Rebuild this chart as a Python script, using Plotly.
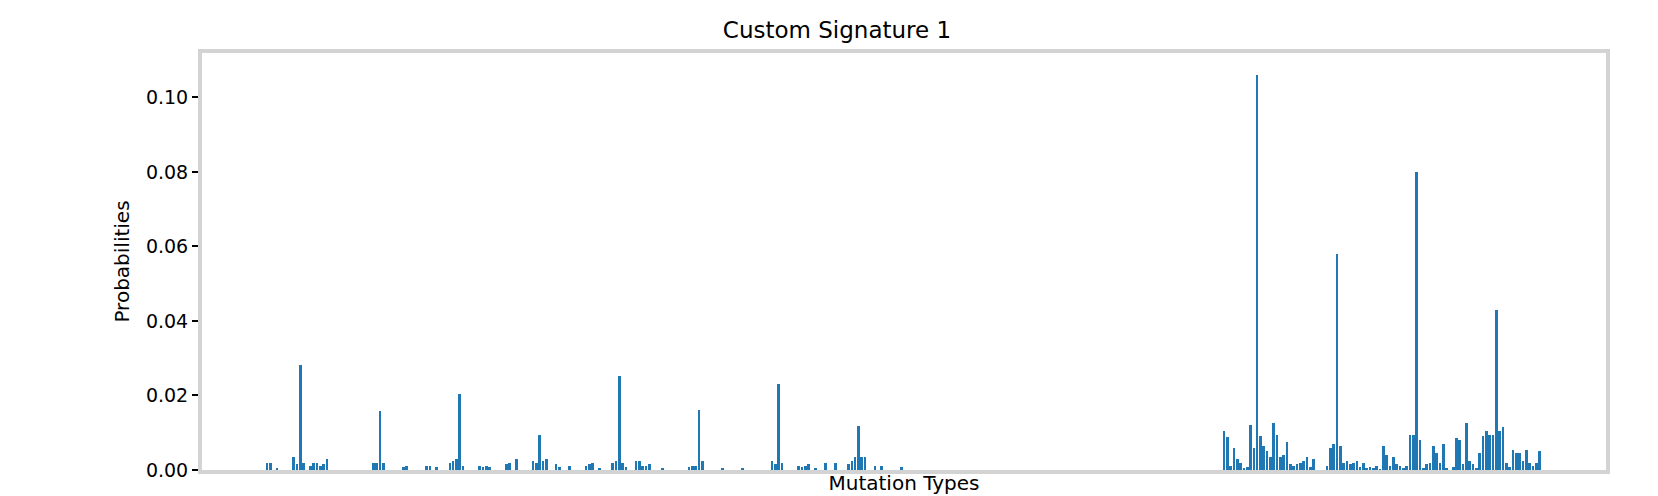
import plotly.graph_objects as go

strands = ["T", "U", "B", "N"]
bases = ["A", "C", "G", "T"]
subs = ["C>A", "C>G", "C>T", "T>A", "T>C", "T>G"]
categories = [f"{s}:{a}[{m}]{b}" for s in strands for m in subs for a in bases for b in bases]

nonzero_index = [
    0, 1, 3, 8, 9, 10, 11, 13, 14, 15, 16, 17, 18,
    32, 33, 34, 35, 41, 42,
    48, 49, 51, 55, 56, 57, 58, 59, 64, 65, 66, 67,
    72, 73, 75, 80, 81, 82, 83, 84, 87, 88, 91,
    96, 97, 98, 100, 104, 105, 106, 107, 108, 111, 112, 113, 114, 115, 119,
    127, 128, 129, 130, 131, 137, 143,
    152, 153, 154, 155, 160, 161, 162, 163, 165, 168, 171,
    175, 176, 177, 178, 179, 180, 183, 185, 191,
]
nonzero_value = [
    0.002, 0.002, 0.0005, 0.0035, 0.0015, 0.0283, 0.002, 0.001, 0.002, 0.002, 0.001, 0.0015, 0.003,
    0.002, 0.002, 0.0157, 0.002, 0.0008, 0.001,
    0.001, 0.001, 0.0008, 0.002, 0.0025, 0.003, 0.0204, 0.0012, 0.001, 0.0008, 0.001, 0.0008,
    0.0015, 0.002, 0.003, 0.0025, 0.002, 0.0095, 0.0025, 0.003, 0.0015, 0.0008, 0.0012,
    0.0012, 0.0015, 0.002, 0.0005, 0.002, 0.0025, 0.0253, 0.002, 0.0008, 0.0025, 0.0025, 0.0012, 0.001, 0.0015, 0.0005,
    0.0008, 0.001, 0.001, 0.0162, 0.0025, 0.0005, 0.0005,
    0.0025, 0.0015, 0.0232, 0.002, 0.001, 0.0008, 0.001, 0.0015, 0.0005, 0.0018, 0.0018,
    0.0015, 0.0025, 0.0035, 0.0119, 0.0035, 0.0035, 0.001, 0.0012, 0.0008,
]
n_strand_values = [
    0.0105, 0.0088, 0.001, 0.006, 0.003, 0.002, 0.0005, 0.0008, 0.012, 0.006, 0.106, 0.009,
    0.0065, 0.005, 0.0035, 0.0125, 0.0095, 0.0035, 0.004, 0.0075, 0.0015, 0.001, 0.0015, 0.002,
    0.0025, 0.0035, 0.0008, 0.003, 0.0, 0.0, 0.0, 0.001, 0.006, 0.007, 0.058, 0.0065,
    0.002, 0.0025, 0.0015, 0.002, 0.0025, 0.0008, 0.002, 0.0005, 0.0008, 0.0003, 0.001, 0.0002,
    0.0065, 0.004, 0.001, 0.0035, 0.0015, 0.001, 0.0005, 0.001, 0.0095, 0.0095, 0.080, 0.008,
    0.0005, 0.0015, 0.002, 0.0065, 0.0045, 0.002, 0.007, 0.0003, 0.0, 0.0008, 0.0085, 0.008,
    0.0015, 0.0125, 0.0025, 0.0015, 0.0005, 0.0045, 0.009, 0.0105, 0.0095, 0.0095, 0.043, 0.0105,
    0.0115, 0.002, 0.0008, 0.0055, 0.0045, 0.0045, 0.0025, 0.0055, 0.002, 0.001, 0.002, 0.005,
]

values = [0.0] * 288 + list(n_strand_values)
for i, v in zip(nonzero_index, nonzero_value):
    values[i] = v

fig = go.Figure(go.Bar(
    x=list(range(len(categories))), y=values, width=0.8,
    marker=dict(color="#1f77b4", line=dict(width=0)),
    hovertext=categories,
))
fig.update_layout(
    width=1658, height=496, plot_bgcolor="white", paper_bgcolor="white",
    margin=dict(l=194, r=60, t=45, b=34),
    font=dict(family="DejaVu Sans", color="black", size=19),
    title=dict(text="Custom Signature 1", x=0.5, xanchor="center", y=0.955, yanchor="middle",
               font=dict(size=23)),
    showlegend=False, bargap=0,
)
fig.update_xaxes(range=[-19.6, 403.0], showticklabels=False, ticks="", showgrid=False, zeroline=False,
                 showline=True, linecolor="lightgray", linewidth=4, mirror=True,
                 title=dict(text="Mutation Types", font=dict(size=20), standoff=4))
fig.update_yaxes(range=[0, 0.1119], tickvals=[0, 0.02, 0.04, 0.06, 0.08, 0.10],
                 ticktext=["0.00", "0.02", "0.04", "0.06", "0.08", "0.10"],
                 ticks="outside", ticklen=6, tickwidth=1.5, tickcolor="black",
                 showgrid=False, zeroline=False,
                 showline=True, linecolor="lightgray", linewidth=4, mirror=True,
                 title=dict(text="Probabilities", font=dict(size=20), standoff=12))
fig.write_html("out.html")
